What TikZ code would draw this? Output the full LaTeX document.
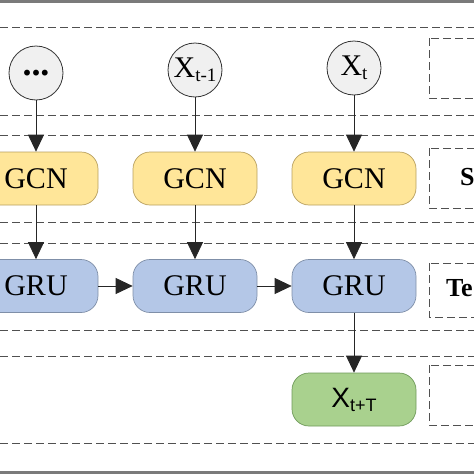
\documentclass[tikz,border=0pt]{standalone}
\usepackage{fontspec}
\setmainfont{Liberation Serif}
\newfontfamily\arialfont{Liberation Sans}
\usetikzlibrary{arrows.meta,positioning}

\definecolor{framegray}{HTML}{7A7A7A}
\definecolor{dashgray}{HTML}{505050}
\definecolor{inputfill}{HTML}{F0F0F0}
\definecolor{gcnfill}{HTML}{FFE699}
\definecolor{gcnline}{HTML}{B8A060}
\definecolor{grufill}{HTML}{B4C7E7}
\definecolor{gruline}{HTML}{7F8FA8}
\definecolor{outfill}{HTML}{A9D18E}
\definecolor{outline}{HTML}{6F9A5A}

\begin{document}
\begin{tikzpicture}[x=1pt,y=-1pt,
	band/.style={draw=dashgray, dash pattern=on 8pt off 4pt, line width=1pt},
	input/.style={circle, draw=black!80, fill=inputfill, line width=0.8pt,
		minimum size=54pt, inner sep=0pt, font=\fontsize{30}{30}\selectfont},
	block/.style={rounded corners=17pt, minimum width=124pt, minimum height=53pt,
		line width=0.7pt, inner sep=0pt, font=\fontsize{30}{30}\selectfont},
	sidelabel/.style={anchor=west, inner sep=0pt, font=\fontsize{26}{26}\selectfont\bfseries},
	flow/.style={-{Triangle[length=17pt,width=16pt]}, line width=0.8pt, black!85}]

	\useasboundingbox (0,0) rectangle (474,474);
	\clip (0,0) rectangle (474,474);

	%columns
	\def\colA{36}
	\def\colB{195}
	\def\colC{354}

	%rows
	\def\rowGCN{178.5}
	\def\rowGRU{286}
	\def\rowOut{399.5}

	% outer frame
	\draw[framegray, line width=3pt] (-20,1.5) rectangle (494,472.5);

	% layer bands
	\foreach \top/\bot in {27/115, 135/222, 243/330, 356/443}{
		\draw[band] (0,\top) -- (474,\top);
		\draw[band] (0,\bot) -- (474,\bot);
	}

	% right side label boxes
	\draw[band] (429,38) rectangle (500,98);
	\draw[band] (429,148) rectangle (500,208);
	\draw[band] (429,263) rectangle (500,317);
	\draw[band] (429,365) rectangle (500,425);
	\node[sidelabel] (spatialLbl) at (460,177) {S};
	\node[sidelabel] (temporalLbl) at (446,288) {Te};

	% inputs
	\node[input] (inA) at (\colA,73) {\fontsize{36}{36}\selectfont\textbf{...}};
	\node[input] (inB) at (\colB,70) {X\raisebox{-4pt}{\fontsize{19}{19}\selectfont t-1}};
	\node[input] (inC) at (\colC,68) {X\raisebox{-4pt}{\fontsize{19}{19}\selectfont t}};

	% spatial blocks
	\node[block, draw=gcnline, fill=gcnfill] (gcnA) at (\colA,\rowGCN) {GCN};
	\node[block, draw=gcnline, fill=gcnfill] (gcnB) at (\colB,\rowGCN) {GCN};
	\node[block, draw=gcnline, fill=gcnfill] (gcnC) at (\colC,\rowGCN) {GCN};

	% temporal blocks
	\node[block, draw=gruline, fill=grufill] (gruA) at (\colA,\rowGRU) {GRU};
	\node[block, draw=gruline, fill=grufill] (gruB) at (\colB,\rowGRU) {GRU};
	\node[block, draw=gruline, fill=grufill] (gruC) at (\colC,\rowGRU) {GRU};

	% output
	\node[block, draw=outline, fill=outfill, font=\fontsize{28}{28}\selectfont\arialfont]
		(out) at (\colC,\rowOut) {X\raisebox{-4pt}{\fontsize{18}{18}\selectfont t+T}};

	% connectors
	\draw[flow] (inA) -- (gcnA);
	\draw[flow] (inB) -- (gcnB);
	\draw[flow] (inC) -- (gcnC);
	\draw[flow] (gcnA) -- (gruA);
	\draw[flow] (gcnB) -- (gruB);
	\draw[flow] (gcnC) -- (gruC);
	\draw[flow] (gruA) -- (gruB);
	\draw[flow] (gruB) -- (gruC);
	\draw[flow] (gruC) -- (out);

\end{tikzpicture}
\end{document}
